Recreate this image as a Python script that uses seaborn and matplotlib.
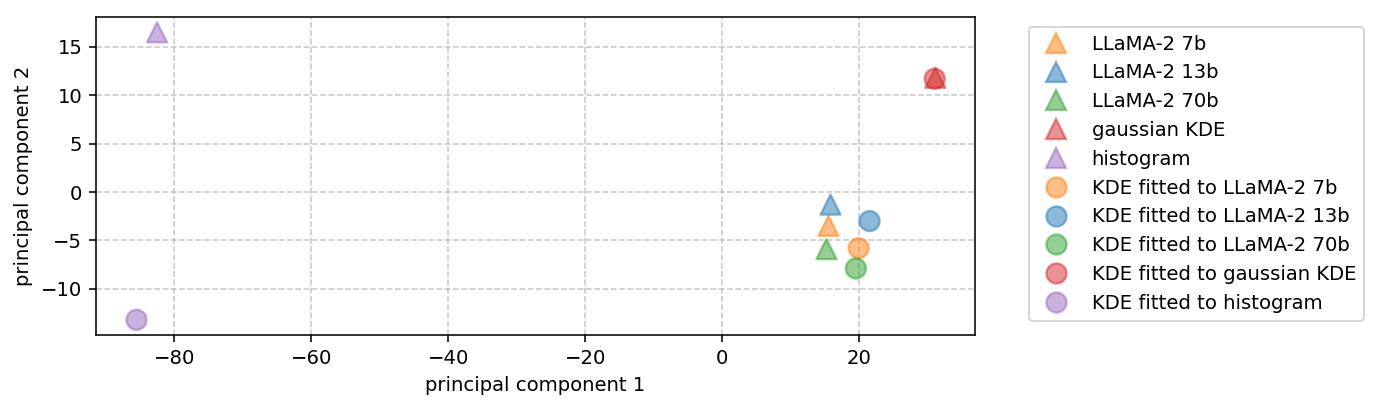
import matplotlib
matplotlib.use("Agg")
import matplotlib.pyplot as plt
import seaborn as sns
import pandas as pd

# PCA coordinates
labels = ["LLaMA-2 7b", "LLaMA-2 13b", "LLaMA-2 70b", "gaussian KDE", "histogram",
          "KDE fitted to LLaMA-2 7b", "KDE fitted to LLaMA-2 13b",
          "KDE fitted to LLaMA-2 70b", "KDE fitted to gaussian KDE",
          "KDE fitted to histogram"]
pc1 = [15.5, 15.8, 15.2, 31.1, -82.5, 19.9, 21.5, 19.5, 31.0, -85.5]
pc2 = [-3.5, -1.3, -5.9, 11.8, 16.5, -5.8, -3.0, -7.9, 11.7, -13.2]
colors = ["C1", "C0", "C2", "C3", "C4", "C1", "C0", "C2", "C3", "C4"]
shapes = ["^", "^", "^", "^", "^", "o", "o", "o", "o", "o"]

df = pd.DataFrame({"pc1": pc1, "pc2": pc2, "label": labels})

DPI = 141
fig = plt.figure(figsize=(1380 / DPI, 411 / DPI), dpi=DPI)
ax = fig.add_axes([0.0696, 0.185, 0.637, 0.7736])

sns.scatterplot(data=df, x="pc1", y="pc2", hue="label", style="label",
                hue_order=labels, style_order=labels,
                palette=dict(zip(labels, colors)),
                markers=dict(zip(labels, shapes)),
                s=105, alpha=0.5, edgecolor="face", linewidth=1.2, ax=ax)

ax.set_xlim(-91.4, 36.9)
ax.set_ylim(-14.77, 18.08)
ax.grid(True, linestyle="--", alpha=0.7)
ax.set_axisbelow(True)
ax.set_xlabel("principal component 1")
ax.set_ylabel("principal component 2")
sns.move_legend(ax, "upper left", bbox_to_anchor=(1.05, 1), title=None)

fig.savefig("out.png", dpi=DPI)
